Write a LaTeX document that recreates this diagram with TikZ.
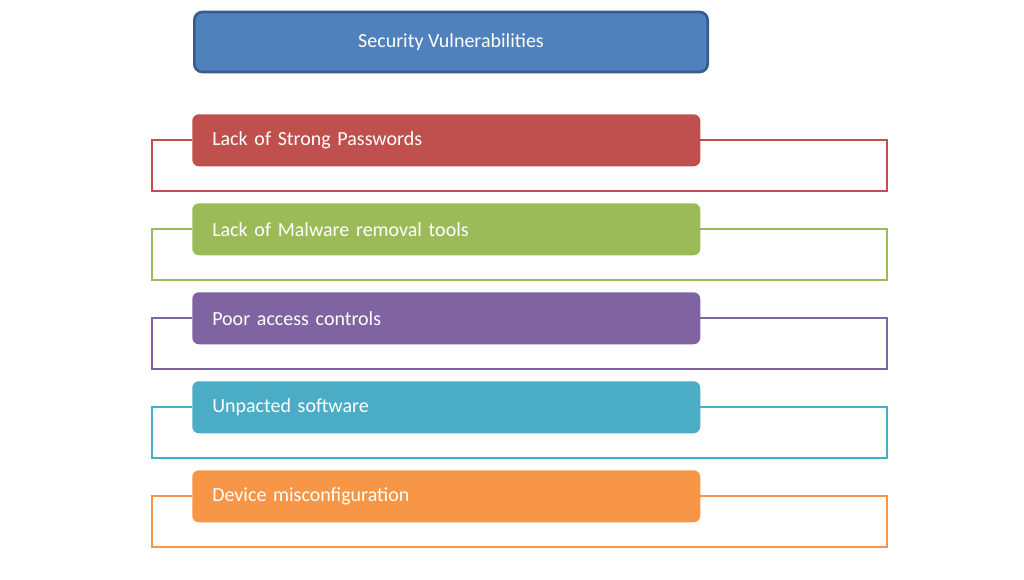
\documentclass[tikz,border=0pt]{standalone}
\usepackage{fontspec}
\setmainfont{Carlito}
\definecolor{cRed}{HTML}{C0504D}
\definecolor{cGreen}{HTML}{9BBB59}
\definecolor{cPurple}{HTML}{8064A2}
\definecolor{cTeal}{HTML}{4BACC6}
\definecolor{cOrange}{HTML}{F79646}
\definecolor{cBlue}{HTML}{4F81BD}
\definecolor{cBlueD}{HTML}{385D8A}
\begin{document}
\begin{tikzpicture}[x=0.75pt,y=-0.75pt,
  item/.style={rounded corners=5pt,minimum width=381pt,minimum height=39pt,text=white,font=\fontsize{15}{18}\selectfont,anchor=north west,inner xsep=15pt,text width=351pt,align=left},
  frame/.style={line width=2.2pt}]
\useasboundingbox[fill=white] (0,0) rectangle (1024,579);
\node[rounded corners=6pt,draw=cBlueD,line width=2pt,fill=cBlue,minimum width=385pt,minimum height=45pt,text=white,font=\fontsize{15}{18}\selectfont] (title) at (451,42) {Security Vulnerabilities};
\foreach \n/\c/\y/\t in {a/cRed/114/Lack of Strong Passwords,b/cGreen/203/Lack of Malware removal tools,c/cPurple/292/Poor access controls,d/cTeal/381/Unpacted software,e/cOrange/470/Device misconfiguration}{
  \coordinate (\n bl) at (152,\y+77);
  \coordinate (\n br) at (887,\y+77);
  \draw[frame,draw=\c] (192,\y+26) -- (152,\y+26) -- (\n bl) -- (\n br) -- (887,\y+26) -- (700,\y+26);
  \node[item,fill=\c] (\n) at (192,\y) {\t};
}
\end{tikzpicture}
\end{document}
